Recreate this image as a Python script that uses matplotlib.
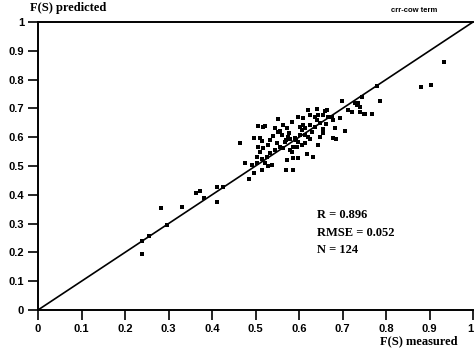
import matplotlib
matplotlib.use("Agg")
import matplotlib.pyplot as plt

# F(S) measured vs predicted
measured = [
    0.239, 0.239, 0.255, 0.283, 0.297, 0.331, 0.363, 0.372, 0.382, 0.411,
    0.425, 0.411, 0.464, 0.476, 0.485, 0.497, 0.503, 0.506, 0.522, 0.552,
    0.545, 0.584, 0.497, 0.510, 0.515, 0.540, 0.552, 0.561, 0.575, 0.506,
    0.517, 0.510, 0.549, 0.556, 0.568, 0.579, 0.586, 0.503, 0.515, 0.492,
    0.526, 0.533, 0.522, 0.529, 0.538, 0.570, 0.586, 0.586, 0.556, 0.577,
    0.621, 0.641, 0.664, 0.699, 0.745, 0.736, 0.740, 0.722, 0.740, 0.749,
    0.598, 0.609, 0.625, 0.637, 0.644, 0.655, 0.609, 0.614, 0.641, 0.648,
    0.667, 0.676, 0.607, 0.625, 0.637, 0.655, 0.655, 0.706, 0.591, 0.598,
    0.614, 0.621, 0.607, 0.614, 0.625, 0.648, 0.678, 0.685, 0.595, 0.584,
    0.598, 0.618, 0.632, 0.602, 0.593, 0.572, 0.563, 0.570, 0.660, 0.729,
    0.733, 0.768, 0.786, 0.752, 0.779, 0.880, 0.903, 0.933, 0.678, 0.529,
    0.533, 0.563, 0.630, 0.644, 0.545, 0.579, 0.694, 0.713, 0.572, 0.515,
    0.602, 0.662, 0.517, 0.683,
]
predicted = [
    0.240, 0.194, 0.257, 0.354, 0.295, 0.358, 0.406, 0.413, 0.389, 0.427,
    0.427, 0.375, 0.580, 0.510, 0.455, 0.476, 0.510, 0.639, 0.639, 0.663,
    0.632, 0.653, 0.597, 0.597, 0.587, 0.604, 0.618, 0.608, 0.601, 0.566,
    0.563, 0.549, 0.580, 0.566, 0.583, 0.594, 0.566, 0.531, 0.524, 0.503,
    0.531, 0.545, 0.510, 0.500, 0.503, 0.486, 0.486, 0.528, 0.622, 0.615,
    0.694, 0.698, 0.694, 0.726, 0.740, 0.719, 0.705, 0.688, 0.688, 0.681,
    0.670, 0.667, 0.677, 0.670, 0.677, 0.677, 0.642, 0.632, 0.660, 0.649,
    0.670, 0.670, 0.625, 0.642, 0.635, 0.628, 0.615, 0.622, 0.597, 0.583,
    0.608, 0.601, 0.573, 0.580, 0.594, 0.601, 0.597, 0.594, 0.566, 0.549,
    0.528, 0.542, 0.531, 0.635, 0.590, 0.521, 0.563, 0.590, 0.691, 0.719,
    0.712, 0.681, 0.726, 0.681, 0.778, 0.774, 0.781, 0.861, 0.660, 0.573,
    0.590, 0.642, 0.618, 0.573, 0.556, 0.556, 0.667, 0.694, 0.632, 0.486,
    0.608, 0.646, 0.635, 0.632,
]

ticks = [0, 0.1, 0.2, 0.3, 0.4, 0.5, 0.6, 0.7, 0.8, 0.9, 1]
tick_labels = ["0", "0.1", "0.2", "0.3", "0.4", "0.5", "0.6", "0.7", "0.8", "0.9", "1"]
stats = ["R = 0.896", "RMSE = 0.052", "N = 124"]

fig = plt.figure(figsize=(4.74, 3.53), dpi=100)
ax = fig.add_axes([38 / 474, 43 / 353, 435 / 474, 288 / 353])

ax.plot([0, 1], [0, 1], color="black", lw=1.2)
ax.scatter(measured, predicted, s=9, marker="s", color="black", linewidths=0)

ax.set_xlim(0, 1)
ax.set_ylim(0, 1)
ax.set_xticks(ticks)
ax.set_xticklabels(tick_labels)
ax.set_yticks(ticks)
ax.set_yticklabels(tick_labels)
ax.tick_params(direction="out", length=7, width=1.2, pad=3, labelsize=8)
for lab in ax.get_xticklabels() + ax.get_yticklabels():
    lab.set_fontfamily("Liberation Sans")
    lab.set_fontweight("bold")
# last x label sits a bit left of its tick so it stays inside the figure
ax.get_xticklabels()[-1].set_horizontalalignment("right")

ax.spines["right"].set_visible(False)
for side in ["left", "bottom", "top"]:
    ax.spines[side].set_linewidth(1.4)

fig.text(30 / 474, 1 - 8 / 353, "F(S) predicted", family="Liberation Serif",
         weight="bold", fontsize=9, ha="left", va="center")
fig.text(458 / 474, 1 - 341 / 353, "F(S) measured", family="Liberation Serif",
         weight="bold", fontsize=9, ha="right", va="center")
fig.text(414 / 474, 1 - 10 / 353, "crr-cow term", family="Liberation Sans",
         weight="bold", fontsize=5.5, ha="center", va="center")

for i, s in enumerate(stats):
    ax.text(0.641, 0.33 - i * 0.061, s, family="Liberation Serif", weight="bold",
            fontsize=9, ha="left", va="center")

fig.savefig("out.png", dpi=100)
